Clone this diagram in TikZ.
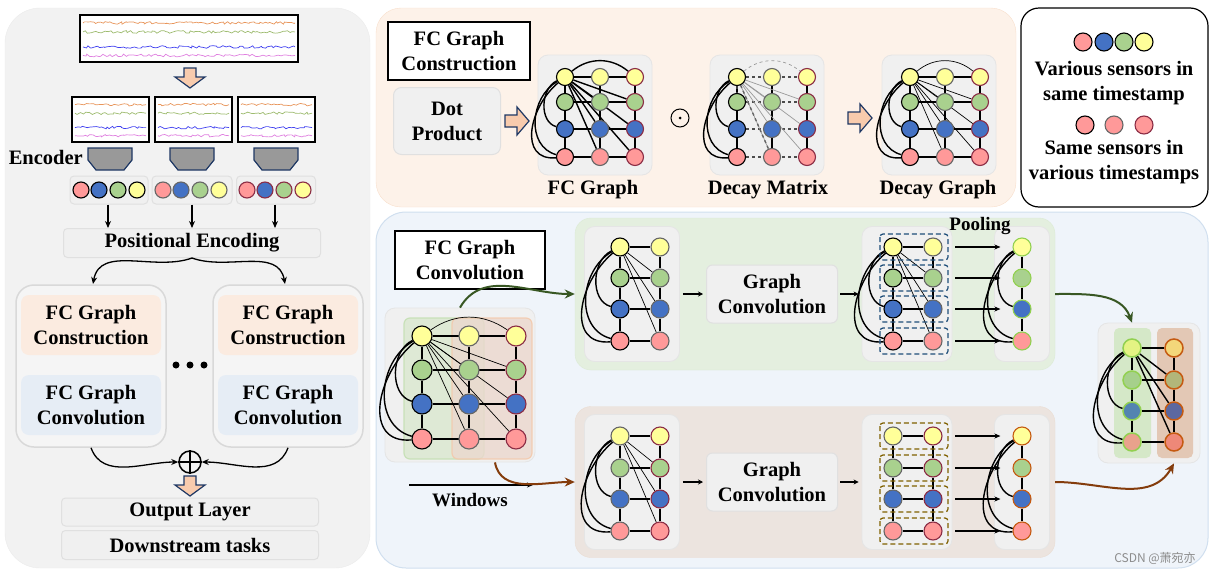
\documentclass[tikz,border=0pt]{standalone}
\usepackage{fontspec}
\setmainfont{Liberation Serif}
\newfontfamily\cjk{Noto Sans CJK SC}
\usetikzlibrary{arrows.meta,decorations.pathmorphing,shapes.geometric}
\pgfdeclarelayer{bg}\pgfdeclarelayer{tl}\pgfdeclarelayer{hl}\pgfdeclarelayer{ed}
\pgfsetlayers{bg,tl,hl,ed,main}
\definecolor{cy}{HTML}{FFFF99}
\definecolor{cg}{HTML}{A9D18E}
\definecolor{cb}{HTML}{4472C4}
\definecolor{cp}{HTML}{FF9999}
\definecolor{dred}{HTML}{8B2D45}
\definecolor{gbd}{HTML}{666666}
\definecolor{lgr}{HTML}{92D050}
\definecolor{org}{HTML}{C55A11}
\definecolor{peach}{HTML}{F8CBAD}
\definecolor{navy}{HTML}{1F3864}
\definecolor{sigo}{HTML}{E8955A}
\definecolor{sigg}{HTML}{9DBB6E}
\definecolor{sigb}{HTML}{4040F0}
\definecolor{sigp}{HTML}{E07FE0}
\definecolor{darkgreen}{HTML}{385723}
\definecolor{brown}{HTML}{843C0C}
\definecolor{hFDF2E9}{HTML}{FDF2E9}
\definecolor{hF8DFCC}{HTML}{F8DFCC}
\definecolor{hEFF4FA}{HTML}{EFF4FA}
\definecolor{hD0DFEF}{HTML}{D0DFEF}
\definecolor{hFBEBE0}{HTML}{FBEBE0}
\definecolor{hE6EDF5}{HTML}{E6EDF5}
\definecolor{hDDE9D3}{HTML}{DDE9D3}
\definecolor{hC5E0B4}{HTML}{C5E0B4}
\definecolor{hEBD8CE}{HTML}{EBD8CE}
\definecolor{hF4C7A8}{HTML}{F4C7A8}
\definecolor{hE4EFDF}{HTML}{E4EFDF}
\definecolor{hDCEBD5}{HTML}{DCEBD5}
\definecolor{hECE4DF}{HTML}{ECE4DF}
\definecolor{hEBDDD3}{HTML}{EBDDD3}
\definecolor{h1F4E79}{HTML}{1F4E79}
\definecolor{h7F6000}{HTML}{7F6000}
\definecolor{hD5E8C8}{HTML}{D5E8C8}
\definecolor{hE3C8B5}{HTML}{E3C8B5}
\definecolor{hE4F383}{HTML}{E4F383}
\definecolor{hF3D77A}{HTML}{F3D77A}
\definecolor{hA6D08B}{HTML}{A6D08B}
\definecolor{hB2B67A}{HTML}{B2B67A}
\definecolor{h5384B0}{HTML}{5384B0}
\definecolor{h5C68A0}{HTML}{5C68A0}
\definecolor{hE9A28C}{HTML}{E9A28C}
\definecolor{hEE8878}{HTML}{EE8878}
\tikzset{
 gn/.style={circle,draw,line width=1.1pt,minimum size=17pt,inner sep=0pt},
 ge/.style={line width=1.4pt},
 gd/.style={line width=0.7pt},
 lbl/.style={font=\bfseries\fontsize{20.5}{25}\selectfont,align=center,inner sep=1pt},
 box/.style={rounded corners=4pt,fill=black!6,draw=black!12,line width=1pt},
 tile/.style={rounded corners=10pt,fill=black!6,draw=black!10,line width=0.8pt},
 arr/.style={-{Stealth[length=7pt,width=6pt]},line width=1.3pt},
 sg/.style={decorate,decoration={random steps,segment length=2.5pt,amplitude=1.3pt},line width=0.7pt},
 pk/.style={fill=peach,draw=navy,line width=1.2pt},
 rowbox/.style={dashed,dash pattern=on 5pt off 3pt,line width=1.2pt,rounded corners=3pt},
}
\newcommand\mkgrid[3]{\foreach \c/\x/\bd in {#2}{\foreach \r/\y/\f in {#3}{\node[gn,fill=\f,draw=\bd] (#1\c\r) at (\x,\y) {};}}}
\newcommand\fcedges[3]{\begin{pgfonlayer}{ed}
 \foreach \c in {1,...,#2}{\draw[ge] (#1\c1)--(#1\c2)--(#1\c3)--(#1\c4);}
 \foreach \r in {1,...,4}{\draw[ge] (#11\r)--(#1#2\r);}
 \draw[ge] (#111) to[out=205,in=165] (#113);
 \draw[ge] (#111) to[out=210,in=165,looseness=1.1] (#114);
 \draw[ge] (#111) to[out=220,in=185,looseness=1.3] (#114);
 \foreach \c in {2,...,#2}{\foreach \r in {2,3,4}{\draw[#3] (#111)--(#1\c\r);}}
 \end{pgfonlayer}}
\newcommand\sig[4]{\draw[line width=1.5pt,fill=white] (#1,#2) rectangle (#3,#4);
 \foreach \f/\col in {.17/sigo,.36/sigg,.68/sigb,.86/sigp}{\draw[sg,\col] ({#1+3},{#2+\f*(#4-#2)}) -- ({#3-3},{#2+\f*(#4-#2)});}}
\newcommand\pdown[2]{\draw[pk] ({#1-6},#2)--({#1+6},#2)--({#1+6},{#2+9})--({#1+15},{#2+9})--(#1,{#2+20})--({#1-15},{#2+9})--({#1-6},{#2+9})--cycle;}
\newcommand\pright[2]{\draw[pk] (#1,{#2-6})--({#1+12},{#2-6})--({#1+12},{#2-14})--({#1+24},#2)--({#1+12},{#2+14})--({#1+12},{#2+6})--(#1,{#2+6})--cycle;}
\newcommand\enc[1]{\draw[fill=black!40,draw=navy,line width=1.2pt] ({#1-22},148)--({#1+22},148)--({#1+22},160)--({#1+14},170)--({#1-14},170)--({#1-22},160)--cycle;}
\begin{document}
\begin{tikzpicture}[x=1pt,y=-1pt]
\useasboundingbox (0,0) rectangle (1216,576);
% ---------- left panel
\begin{pgfonlayer}{bg}
\draw[fill=black!5,draw=black!8,rounded corners=35pt] (5,8) rectangle (370,568);
\end{pgfonlayer}
\sig{80}{15}{298}{62}
\pdown{190}{68}
\sig{72}{97}{149}{142}\sig{155}{97}{232}{142}\sig{238}{97}{315}{142}
\node[lbl,anchor=east] (enc) at (84,157) {Encoder};
\enc{110}\enc{192}\enc{276}
\node[box,minimum width=78pt,minimum height=28pt] (r1) at (109,190) {};
\node[box,minimum width=80pt,minimum height=28pt] (r2) at (192,190) {};
\node[box,minimum width=79pt,minimum height=28pt] (r3) at (276,190) {};
\foreach \x/\f [count=\i] in {81/cp,99/cb,118/cg,137/cy}{\node[gn,minimum size=16pt,fill=\f] (a\i) at (\x,190) {};}
\foreach \x/\f [count=\i] in {163/cp,181/cb,200/cg,219/cy}{\node[gn,minimum size=16pt,fill=\f,draw=gbd] (b\i) at (\x,190) {};}
\foreach \x/\f [count=\i] in {247/cp,265/cb,284/cg,303/cy}{\node[gn,minimum size=16pt,fill=\f,draw=dred] (c\i) at (\x,190) {};}
\node[box,minimum width=257pt,minimum height=29pt,lbl] (pe) at (192,243) {Positional Encoding};
\draw[arr] (r1.south-|108,0) -- (pe.north-|108,0);
\draw[arr] (r2.south) -- (pe.north);
\draw[arr] (r3.south-|275,0) -- (pe.north-|275,0);
\node[box,rounded corners=18pt,fill=black!4,draw=black!15,line width=1.5pt,minimum width=150pt,minimum height=162pt] (blk1) at (91,366) {};
\node[box,rounded corners=18pt,fill=black!4,draw=black!15,line width=1.5pt,minimum width=150pt,minimum height=162pt] (blk2) at (288,366) {};
\node[lbl,rounded corners=8pt,fill=hFBEBE0,minimum width=140pt,minimum height=60pt] (con1) at (91,325) {FC Graph\\Construction};
\node[lbl,rounded corners=8pt,fill=hE6EDF5,minimum width=140pt,minimum height=60pt] (cv1) at (91,405) {FC Graph\\Convolution};
\node[lbl,rounded corners=8pt,fill=hFBEBE0,minimum width=140pt,minimum height=60pt] (con2) at (288,325) {FC Graph\\Construction};
\node[lbl,rounded corners=8pt,fill=hE6EDF5,minimum width=140pt,minimum height=60pt] (cv2) at (288,405) {FC Graph\\Convolution};
\foreach \x in {176,190,204}{\fill (\x,365) circle (3.5pt);}
\draw[arr] (pe.south) to[out=200,in=80] (93,284);
\draw[arr] (pe.south) to[out=-20,in=100] (285,284);
\node[circle,draw,line width=1.5pt,minimum size=22pt,inner sep=0] (op) at (190,462) {};
\draw[line width=1.3pt] (op.north)--(op.south) (op.west)--(op.east);
\draw[arr] (blk1.south) to[out=-70,in=180] (op.west);
\draw[arr] (blk2.south) to[out=-110,in=0] (op.east);
\pdown{190}{476}
\node[box,lbl,minimum width=257pt,minimum height=28pt] (ol) at (190,512) {Output Layer};
\node[box,lbl,minimum width=257pt,minimum height=29pt] (ds) at (190,545) {Downstream tasks};
% ---------- top right panel
\begin{pgfonlayer}{bg}
\draw[fill=hFDF2E9,draw=hF8DFCC,rounded corners=25pt] (376,8) rectangle (1016,207);
\draw[fill=hEFF4FA,draw=hD0DFEF,line width=1pt,rounded corners=30pt] (376,212) rectangle (1208,568);
\end{pgfonlayer}
\node[lbl,draw,fill=white,line width=1.2pt,minimum width=142pt,minimum height=58pt] (t1) at (459,51) {FC Graph\\Construction};
\node[box,lbl,rounded corners=8pt,minimum width=107pt,minimum height=67pt] (dp) at (447,121) {Dot\\Product};
\pright{505}{121}
\begin{pgfonlayer}{tl}
\node[tile,minimum width=114pt,minimum height=120pt] (fat) at (595,115) {};
\node[tile,minimum width=114pt,minimum height=120pt] (dmt) at (767,115) {};
\node[tile,minimum width=114pt,minimum height=120pt] (dgt) at (939,115) {};
\end{pgfonlayer}
\mkgrid{fa}{1/565/black,2/600/gbd,3/635/dred}{1/77/cy,2/102/cg,3/129/cb,4/157/cp}
\mkgrid{dm}{1/737/black,2/772/gbd,3/807/dred}{1/77/cy,2/102/cg,3/129/cb,4/157/cp}
\mkgrid{dg}{1/910/black,2/945/gbd,3/980/dred}{1/77/cy,2/102/cg,3/129/cb,4/157/cp}
\fcedges{fa}{3}{ge}
\fcedges{dg}{3}{gd}
\begin{pgfonlayer}{ed}
\draw[ge] (fa11) to[bend left=40] (fa31);
\draw[gd] (dg11) to[bend left=40] (dg31);
\foreach \c in {1,2,3}{\draw[ge] (dm\c1)--(dm\c2)--(dm\c3)--(dm\c4);}
\foreach \r in {1,...,4}{\draw[ge,dashed,black!70] (dm1\r)--(dm3\r);}
\draw[ge] (dm11) to[out=205,in=165] (dm13);
\draw[ge] (dm11) to[out=210,in=165,looseness=1.1] (dm14);
\draw[ge] (dm11) to[out=220,in=185,looseness=1.3] (dm14);
\foreach \c in {2,3}{\foreach \r in {2,3,4}{\draw[gd,black!40] (dm11)--(dm\c\r);}}
\draw[ge,dashed,black!60] (dm11)--(dm12) (dm11)--([xshift=-6pt]dm24);
\draw[gd,dashed,black!40] (dm11) to[bend left=40] (dm31);
\end{pgfonlayer}
\node[circle,draw,line width=1pt,minimum size=18pt,inner sep=0] (odot) at (680,118) {};
\fill (odot.center) circle (1.5pt);
\pright{848}{118}
\node[lbl] (l1) at (593,190) {FC Graph};
\node[lbl] (l2) at (768,190) {Decay Matrix};
\node[lbl] (l3) at (938,190) {Decay Graph};
% legend
\draw[fill=white,line width=1.2pt,rounded corners=18pt] (1021,8) rectangle (1208,207);
\foreach \x/\f [count=\i] in {1083/cp,1104/cb,1124/cg,1144/cy}{\node[gn,minimum size=18pt,fill=\f] (la\i) at (\x,42) {};}
\node[lbl] (lt1) at (1114,83) {Various sensors in\\same timestamp};
\foreach \x/\bd [count=\i] in {1085/black,1114/gbd,1144/dred}{\node[gn,minimum size=18pt,fill=cp,draw=\bd] (lb\i) at (\x,125) {};}
\node[lbl] (lt2) at (1114,162) {Same sensors in\\various timestamps};
% ---------- bottom panel
\node[lbl,draw,fill=white,line width=1.2pt,minimum width=150pt,minimum height=58pt] (t2) at (470,260) {FC Graph\\Convolution};
\begin{pgfonlayer}{tl}
\node[tile,minimum width=150pt,minimum height=154pt] (ltt) at (460,385) {};
\end{pgfonlayer}
\begin{pgfonlayer}{hl}
\draw[fill=hDDE9D3,draw=hC5E0B4,line width=1.2pt,rounded corners=6pt,opacity=.9] (404,318) rectangle (484,459);
\draw[fill=hEBD8CE,draw=hF4C7A8,line width=1.2pt,rounded corners=6pt,opacity=.8] (452,318) rectangle (532,459);
\end{pgfonlayer}
\tikzset{gn/.append style={minimum size=20pt}}
\mkgrid{lt}{1/422/black,2/469/gbd,3/516/dred}{1/336/cy,2/370/cg,3/404/cb,4/439/cp}
\fcedges{lt}{3}{gd}
\begin{pgfonlayer}{ed}\draw[gd] (lt11) to[bend left=35] (lt31);\end{pgfonlayer}
\coordinate (wa) at (409,485);\coordinate (wb) at (533,485);
\draw[arr,-{Stealth[length=6pt,width=5pt]},line width=1.2pt] (wa)--(wb);
\node[lbl,font=\bfseries\fontsize{19}{22}\selectfont] (win) at (470,500) {Windows};
\tikzset{gn/.append style={minimum size=18pt}}
\begin{pgfonlayer}{bg}
\node[rounded corners=16pt,fill=hE4EFDF,draw=hDCEBD5,minimum width=480pt,minimum height=152pt] (gp) at (815,294) {};
\node[rounded corners=16pt,fill=hECE4DF,draw=hEBDDD3,minimum width=480pt,minimum height=151pt] (bp) at (815,482) {};
\end{pgfonlayer}
\foreach \p/\y in {a/294,c/482}{
 \begin{pgfonlayer}{tl}
 \node[tile,minimum width=95pt,minimum height=135pt] (\p t1) at (632,\y) {};
 \node[tile,minimum width=90pt,minimum height=135pt] (\p t2) at (907,\y) {};
 \node[tile,minimum width=55pt,minimum height=135pt] (\p t3) at (1022,\y) {};
 \end{pgfonlayer}
 \node[box,lbl,rounded corners=6pt,minimum width=131pt,minimum height=58pt] (\p box) at (772,\y) {Graph\\Convolution};
 \draw[arr,line width=1.1pt,-{Stealth[length=5pt,width=5pt]}] ([xshift=3pt]\p t1.east) -- ([xshift=-3pt]\p box.west);
 \draw[arr,line width=1.1pt,-{Stealth[length=5pt,width=5pt]}] ([xshift=2pt]\p box.east) -- ([xshift=-3pt]\p t2.west);
}
\mkgrid{ga}{1/620/black,2/660/gbd}{1/247/cy,2/278/cg,3/309/cb,4/341/cp}
\mkgrid{gb}{1/893/black,2/933/gbd}{1/247/cy,2/278/cg,3/309/cb,4/341/cp}
\mkgrid{pa}{1/1022/lgr}{1/247/cy,2/278/cg,3/309/cb,4/341/cp}
\mkgrid{gc}{1/620/gbd,2/660/dred}{1/436/cy,2/468/cg,3/499/cb,4/531/cp}
\mkgrid{gd}{1/893/gbd,2/933/dred}{1/436/cy,2/468/cg,3/499/cb,4/531/cp}
\mkgrid{pb}{1/1022/org}{1/436/cy,2/468/cg,3/499/cb,4/531/cp}
\fcedges{ga}{2}{gd}\fcedges{gb}{2}{gd}\fcedges{gc}{2}{gd}
\begin{pgfonlayer}{ed}
\foreach \c in {1,2}{\draw[ge] (gd\c1)--(gd\c2)--(gd\c3)--(gd\c4);}
\foreach \r in {1,...,4}{\draw[ge] (gd1\r)--(gd2\r);}
\foreach \p in {pa,pb}{
 \draw[ge] (\p11)--(\p12)--(\p13)--(\p14);
 \draw[ge] (\p11) to[out=205,in=165] (\p13);
 \draw[ge] (\p11) to[out=210,in=165,looseness=1.1] (\p14);
 \draw[ge] (\p11) to[out=220,in=185,looseness=1.3] (\p14);}
\end{pgfonlayer}
\foreach \r in {1,...,4}{
 \draw[rowbox,draw=h1F4E79] ([xshift=-13pt,yshift=13pt]gb1\r.center) rectangle ([xshift=15pt,yshift=-13pt]gb2\r.center);
 \draw[rowbox,draw=h7F6000] ([xshift=-13pt,yshift=13pt]gd1\r.center) rectangle ([xshift=15pt,yshift=-13pt]gd2\r.center);
 \draw[arr,line width=1.2pt,-{Stealth[length=6pt,width=5pt]}] ([xshift=22pt]gb2\r.center) -- ([xshift=-12pt]pa1\r.west);
 \draw[arr,line width=1.2pt,-{Stealth[length=6pt,width=5pt]}] ([xshift=22pt]gd2\r.center) -- ([xshift=-12pt]pb1\r.west);
}
\node[lbl,font=\bfseries\fontsize{19}{22}\selectfont] (pool) at (980,226) {Pooling};
% final graph
\begin{pgfonlayer}{tl}
\node[tile,minimum width=102pt,minimum height=140pt] (ft) at (1149,393) {};
\end{pgfonlayer}
\begin{pgfonlayer}{hl}
\draw[fill=hD5E8C8,draw=none,rounded corners=5pt] (1114,328) rectangle (1151,458);
\draw[fill=hE3C8B5,draw=none,rounded corners=5pt] (1157,328) rectangle (1193,458);
\end{pgfonlayer}
\foreach \r/\y/\fa/\fb in {1/348/hE4F383/hF3D77A,2/380/hA6D08B/hB2B67A,3/411/h5384B0/h5C68A0,4/442/hE9A28C/hEE8878}{
 \node[gn,fill=\fa,draw=lgr,line width=1.5pt] (fn1\r) at (1132,\y) {};
 \node[gn,fill=\fb,draw=org,line width=1.5pt] (fn2\r) at (1174,\y) {};}
\fcedges{fn}{2}{ge}
\draw[arr,darkgreen,line width=2pt,-{Stealth[length=10pt,width=9pt]}] (gp.east) to[out=0,in=110] (ft.north-|fn11);
\draw[arr,brown,line width=2pt,-{Stealth[length=10pt,width=9pt]}] (bp.east) to[out=0,in=240] (ft.south-|fn21);
\draw[arr,darkgreen,line width=2pt,-{Stealth[length=10pt,width=9pt]}] (ltt.north) to[out=60,in=180] (gp.west);
\draw[arr,brown,line width=2pt,-{Stealth[length=10pt,width=9pt]}] ([xshift=35pt]ltt.south) to[out=-80,in=180] (bp.west);
\node[text=black!45,font=\fontsize{12}{14}\selectfont\cjk] (wm) at (1155,558) {CSDN @萧宛亦};
\end{tikzpicture}
\end{document}
